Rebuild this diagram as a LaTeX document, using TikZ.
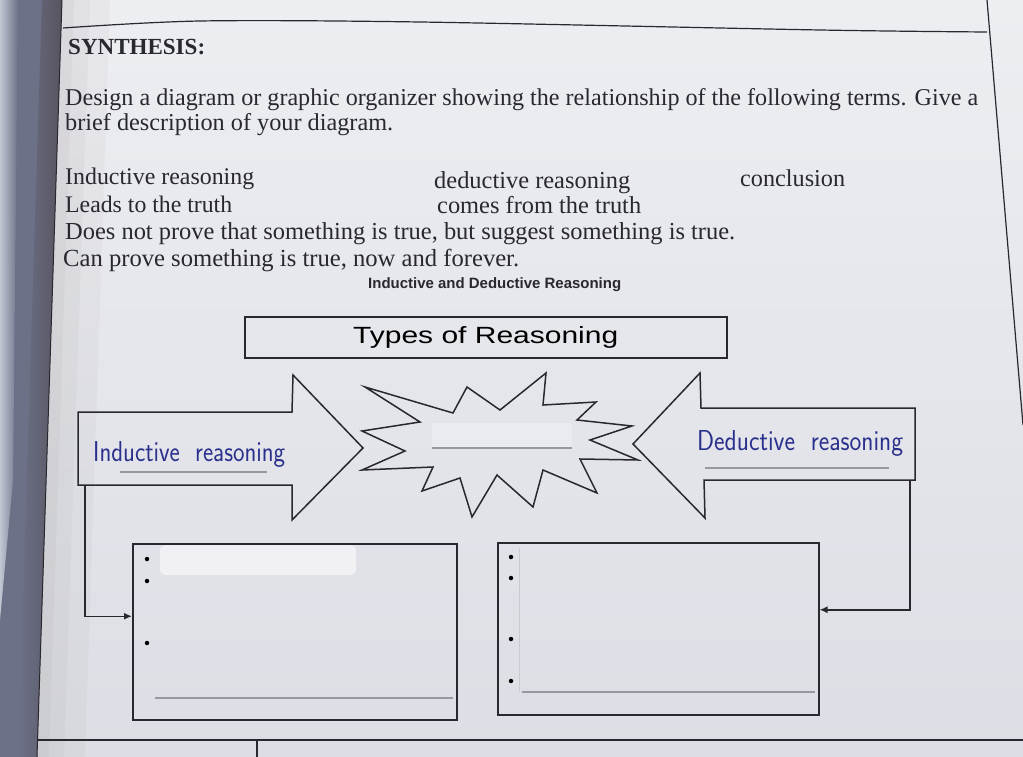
\documentclass[tikz,border=0pt]{standalone}
\usepackage{fontspec}
\setmainfont{Liberation Serif}
\newfontfamily\arialf{Liberation Sans}
\usepackage{graphicx}
\usetikzlibrary{arrows.meta}
\definecolor{pagetop}{RGB}{237,238,242}
\definecolor{pagebot}{RGB}{220,222,229}
\definecolor{ink}{RGB}{40,40,46}
\definecolor{pen}{RGB}{42,48,140}
\definecolor{strip}{RGB}{108,113,136}
\definecolor{stripd}{RGB}{88,84,96}
\definecolor{stripl}{RGB}{194,199,211}
\definecolor{fieldline}{RGB}{150,152,158}
\definecolor{shadowc}{RGB}{120,110,110}
\begin{document}
\begin{tikzpicture}[x=1pt,y=-1pt,
  line/.style={draw=ink, line width=1.5pt, line join=miter},
  conn/.style={draw=ink, line width=1.5pt, -{Latex[length=8pt,width=7pt]}},
  txt/.style={anchor=base west, inner sep=0pt, text=ink, font=\fontsize{24}{28}\selectfont},
  hand/.style={anchor=base west, inner sep=0pt, text=pen, font=\sffamily\fontsize{20}{24}\selectfont},
  field/.style={draw=fieldline, line width=1.4pt},
  bullet/.style={fill=black, circle, inner sep=0pt, minimum size=4.5pt}
]
\useasboundingbox (0,0) rectangle (1023,757);
% page and background
\shade[top color=pagetop, bottom color=pagebot] (0,0) rectangle (1023,757);
% shadow of the page near the binding
\fill[shadowc, opacity=0.05] (62,0) -- (110,0) -- (85,757) -- (37,757) -- cycle;
\fill[shadowc, opacity=0.05] (62,0) -- (90,0) -- (64,757) -- (37,757) -- cycle;
\fill[shadowc, opacity=0.06] (62,0) -- (74,0) -- (49,757) -- (37,757) -- cycle;
% binding strip
\fill[strip] (0,0) -- (62,0) -- (37,757) -- (0,757) -- cycle;
\shade[left color=strip, right color=stripd] (42,0) -- (62,0) -- (37,757) -- (18,757) -- cycle;
\shade[left color=stripl, right color=strip] (0,0) -- (18,0) -- (13,480) -- (0,620) -- cycle;
\draw[ink, line width=1pt] (62,0) -- (37,757);
% page frame lines
\draw[line, line width=1.2pt] plot[smooth] coordinates {(63,28) (200,21) (420,22) (820,30) (987,32)};
\draw[line, line width=1.2pt] (987,0) -- (1023,425);
\draw[line] (37,740) -- (1023,740);
\draw[line] (257,740) -- (257,757);

% printed text
\node[txt] (syn) at (68,55) {\resizebox{137pt}{!}{\bfseries SYNTHESIS:}};
\node[txt] (l1) at (65,106) {\resizebox{913pt}{!}{Design a diagram or graphic organizer showing the relationship of the following terms. Give a}};
\node[txt] (l2) at (65,131) {\resizebox{328pt}{!}{brief description of your diagram.}};
\node[txt] (t1) at (65,185) {\resizebox{189pt}{!}{Inductive reasoning}};
\node[txt] (t2) at (434,188) {\resizebox{196pt}{!}{deductive reasoning}};
\node[txt] (t3) at (740,187) {\resizebox{105pt}{!}{conclusion}};
\node[txt] (t4) at (65,213) {\resizebox{167pt}{!}{Leads to the truth}};
\node[txt] (t5) at (437,213) {\resizebox{204pt}{!}{comes from the truth}};
\node[txt] (t6) at (65,240) {\resizebox{670pt}{!}{Does not prove that something is true, but suggest something is true.}};
\node[txt] (t7) at (63,266) {\resizebox{456pt}{!}{Can prove something is true, now and forever.}};
\node[txt] (cap) at (368,288) {\resizebox{253pt}{!}{\arialf\bfseries Inductive and Deductive Reasoning}};

% title box
\node[line, anchor=north west, minimum width=482pt, minimum height=41pt, inner sep=0pt] (title) at (244,316)
  {\resizebox{265pt}{17pt}{\arialf Types of Reasoning}};

% left arrow
\draw[line] (78,412) -- (292,412) -- (293,375) -- (363,448) -- (292,520) -- (292,485) -- (78,485) -- cycle;
% right arrow
\draw[line] (915,408) -- (701,408) -- (700,373) -- (633,444) -- (705,518) -- (704,480) -- (915,480) -- cycle;
% starburst
\draw[line] (365,387) -- (453,413) -- (467,387) -- (500,410) -- (546,373) -- (543,405) -- (596,402)
  -- (577,420) -- (632,426) -- (590,440) -- (638,460) -- (580,459) -- (597,493) -- (543,470)
  -- (533,507) -- (497,475) -- (472,517) -- (460,478) -- (422,491) -- (433,467) -- (362,470)
  -- (405,451) -- (362,431) -- (420,422) -- cycle;
\fill[white, opacity=0.25] (432,423) rectangle (572,448);
\draw[field] (432,448) -- (572,448);

% handwriting
\node[hand] (ind) at (93,461) {\resizebox{192pt}{20pt}{Inductive\ \ reasoning}};
\node[hand] (ded) at (697,450) {\resizebox{206pt}{20pt}{Deductive\ \ reasoning}};
\draw[field] (120,472) -- (267,472);
\draw[field] (705,468) -- (889,468);

% bottom boxes
\node[line, anchor=north west, minimum width=324pt, minimum height=176pt, inner sep=0pt] (lbox) at (132,543) {};
\node[line, anchor=north west, minimum width=321pt, minimum height=172pt, inner sep=0pt] (rbox) at (497,542) {};
\fill[white, opacity=0.55, rounded corners=6pt] (160,545) rectangle (356,575);
\node[bullet] (lb1) at (147,559) {};
\node[bullet] (lb2) at (147,581) {};
\node[bullet] (lb3) at (147,643) {};
\node[bullet] (rb1) at (511,557) {};
\node[bullet] (rb2) at (511,578) {};
\node[bullet] (rb3) at (511,639) {};
\node[bullet] (rb4) at (511,681) {};
\draw[field] (155,698) -- (453,698);
\draw[field] (522,692) -- (815,692);
\draw[fieldline!50, line width=0.8pt] (519,548) -- (519,692);

% connectors
\coordinate (lstart) at (85,485);
\coordinate (rstart) at (910,480);
\draw[conn] (lstart) |- ([yshift=15.5pt]lbox.west);
\draw[conn] (rstart) |- ([yshift=19pt]rbox.east);
\end{tikzpicture}
\end{document}
